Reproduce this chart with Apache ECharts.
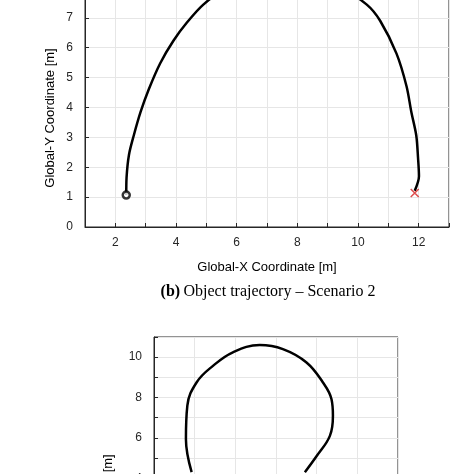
<!DOCTYPE html>
<html><head><meta charset="utf-8">
<script src="https://cdn.jsdelivr.net/npm/echarts@6/dist/echarts.min.js"></script>
<style>html,body{margin:0;padding:0;background:#fff;overflow:hidden;width:474px;height:474px}#c{position:absolute;left:0;top:-48px;width:474px;height:640px}</style>
</head><body><div id="c"></div>
<script>
const trajA = [[2.36,1.07],[2.37,1.65],[2.45,2.42],[2.61,3.07],[2.83,3.84],[3.1,4.6],[3.48,5.48],[3.92,6.24],[4.36,6.84],[4.9,7.44],[5.6,7.95],[6.5,8.25],[7.5,8.35],[8.5,8.25],[9.5,7.95],[10.29,7.44],[10.73,6.9],[11.27,5.8],[11.6,4.71],[11.76,3.84],[11.92,3.07],[11.98,2.3],[12.01,1.7],[11.87,1.21]];
const startA = [[2.36,1.07]];
const endA = [[11.87,1.14]];
const trajB = [[1.85,4.3],[1.57,5.94],[1.64,7.6],[2.1,8.76],[2.9,9.57],[3.88,10.24],[5.2,10.6],[6.34,10.4],[7.5,9.74],[8.3,8.76],[8.73,7.92],[8.8,7.1],[8.65,6.1],[8.0,5.1],[7.42,4.3]];
const xTicksA = [2,4,6,8,10,12];
const yTicksA = [0,1,2,3,4,5,6,7,8,9];
const yTicksB = [0,2,4,6,8,10];

const F = 'Liberation Sans, Arial, sans-serif';
const lab = {color:'#262626', fontSize:12, fontFamily:F};
const spl = {show:true, lineStyle:{color:'#e6e6e6'}};
const axl = {lineStyle:{color:'#262626'}};
const O = 48;
const chart = echarts.init(document.getElementById('c'));
chart.setOption({
  animation:false,
  grid:[{left:85,top:0,width:364,height:275,show:true,borderColor:'#262626',borderWidth:1},
        {left:154,top:337+O,width:244,height:222,show:true,borderColor:'#262626',borderWidth:1}],
  xAxis:[
    {gridIndex:0,type:'value',min:1,max:13,interval:1,
     axisLabel:Object.assign({},lab,{margin:10,formatter:v=>xTicksA.includes(v)?String(v):''}),
     axisTick:{inside:true,length:4,lineStyle:{color:'#262626'}},axisLine:axl,
     splitLine:{show:true,lineStyle:{color:['#e6e6e6']}},
     name:'Global-X Coordinate [m]',nameLocation:'middle',nameGap:34,
     nameTextStyle:{color:'#000',fontSize:13,fontFamily:F}},
    {gridIndex:1,type:'value',min:0,max:12,interval:2,axisLabel:{show:false},
     axisTick:{inside:true,length:4},axisLine:axl,splitLine:spl}
  ],
  yAxis:[
    {gridIndex:0,type:'value',min:0,max:9,interval:1,
     axisLabel:Object.assign({},lab,{margin:12,formatter:v=>yTicksA.includes(v)?String(v):''}),
     axisTick:{inside:true,length:4},axisLine:axl,splitLine:spl},
    {gridIndex:1,type:'value',min:0,max:11,interval:1,
     axisLabel:Object.assign({},lab,{margin:12,formatter:v=>yTicksB.includes(v)?String(v):''}),
     axisTick:{inside:true,length:4},axisLine:axl,splitLine:{show:true,interval:1,lineStyle:{color:'#e6e6e6'}}}
  ],
  graphic:[
    {type:'text',x:50,y:118+O,rotation:Math.PI/2,style:{text:'Global-Y Coordinate [m]',fill:'#000',font:'13px '+F,align:'center',verticalAlign:'middle'}},
    {type:'text',x:108,y:524+O,rotation:Math.PI/2,style:{text:'Global-Y Coordinate [m]',fill:'#000',font:'13px '+F,align:'center',verticalAlign:'middle'}},
    {type:'text',x:268,y:292+O,style:{rich:{b:{fontFamily:'Liberation Serif',fontWeight:'bold',fontSize:16,fill:'#000'},n:{fontFamily:'Liberation Serif',fontSize:16,fill:'#000'}},text:'{b|(b)} {n|Object trajectory – Scenario 2}',align:'center',verticalAlign:'middle'}}
  ],
  series:[
    {type:'line',xAxisIndex:0,yAxisIndex:0,data:trajA,smooth:0.3,showSymbol:false,lineStyle:{color:'#000',width:2.5},z:2},
    {type:'scatter',xAxisIndex:0,yAxisIndex:0,data:startA,symbol:'circle',symbolSize:7,itemStyle:{color:'#fff',borderColor:'#000',borderWidth:2.5},z:3},
    {type:'scatter',xAxisIndex:0,yAxisIndex:0,data:endA,symbol:'path://M0,0L10,10M10,0L0,10',symbolSize:8,itemStyle:{color:'none',borderColor:'#d62020',borderWidth:1.5},z:3},
    {type:'line',xAxisIndex:1,yAxisIndex:1,data:trajB,smooth:0.4,showSymbol:false,lineStyle:{color:'#000',width:2.5}}
  ]
});
</script></body></html>
